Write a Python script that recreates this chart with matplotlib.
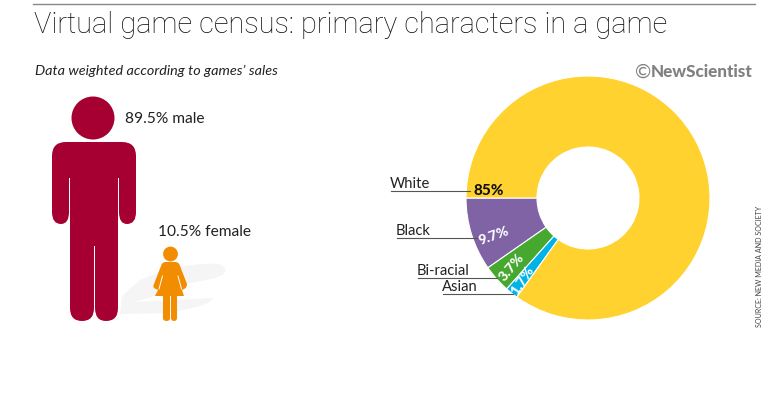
import matplotlib
matplotlib.use('Agg')
import matplotlib.pyplot as plt
from matplotlib.patches import PathPatch, Circle
from matplotlib.path import Path

# Datos
grupos = ['Black', 'Bi-racial', 'Asian', 'White']
valores = [9.7, 3.7, 1.7, 85]
etiquetas = ['9.7%', '3.7%', '1.7%', '85%']
colores = ['#7F63A5', '#46A82F', '#00B3E6', '#FFD22F']
generos = ['89.5% male', '10.5% female']

H = 395
plt.rcParams['font.family'] = ['Lato', 'DejaVu Sans']


def forma(pasos, color, z=3):
    # pasos en pixeles de la imagen: (x, y) linea, (cx, cy, x, y) curva
    verts, codes = [], []
    for i, p in enumerate(pasos):
        if len(p) == 2:
            verts.append((p[0], H - p[1]))
            codes.append(Path.MOVETO if i == 0 else Path.LINETO)
        else:
            verts += [(p[0], H - p[1]), (p[2], H - p[3])]
            codes += [Path.CURVE3, Path.CURVE3]
    ax.add_patch(PathPatch(Path(verts, codes), fc=color, ec='none', zorder=z))


def texto(x, y, s, **kw):
    kw.setdefault('color', '#222222')
    kw.setdefault('va', 'center')
    ax.text(x, H - y, s, **kw)


fig = plt.figure(figsize=(7.67, 3.95), dpi=100)
ax = fig.add_axes([0, 0, 1, 1])

# Anillo
ax.pie(valores, colors=colores, startangle=180, counterclock=True,
       center=(588, H - 198), radius=122,
       wedgeprops=dict(width=71, edgecolor='white', linewidth=0.8))
ax.set_xlim(0, 767)
ax.set_ylim(0, H)
ax.set_aspect('equal')
ax.axis('off')

# Lineas guia
guias = [('White', 391, 470, 191), ('Black', 397, 477, 238),
         ('Bi-racial', 418, 497, 278), ('Asian', 443, 513, 294)]
for nombre, x0, x1, y in guias:
    ax.plot([x0, x1], [H - y, H - y], color='#555555', lw=0.8, zorder=4)
    texto(x0 - 1, y - 7, nombre, fontsize=10.6, ha='left')

# Porcentajes sobre el anillo
pos = [(494, 236, 20), (512, 267, 50), (522.5, 280.5, 57), (488.5, 191, 0)]
for (x, y, rot), s, g in zip(pos, etiquetas, grupos):
    c = '#111111' if g == 'White' else 'white'
    tam = 11 if g == 'White' else 10.2
    texto(x, y, s, color=c, fontsize=tam, fontweight='black', rotation=rot,
          ha='center', rotation_mode='anchor', zorder=5)

# Sombra de la figura pequena
forma([(120, 314), (122, 296), (140, 280), (165, 270), (200, 262, 218, 264),
       (227, 267, 225, 272), (222, 278, 200, 281), (180, 285), (172, 290), (155, 296),
       (135, 302), (175, 300), (213, 298), (212, 302, 200, 306), (170, 313), (120, 314)],
      '#F5F5F5', z=1)

# Figura masculina
ax.add_patch(Circle((93, H - 118), 21.5, fc='#A50031', ec='none', zorder=3))
forma([(66, 142), (122, 142), (136, 142, 136, 156), (136, 212),
       (136, 224, 127, 224), (119, 224, 119, 212), (119, 178), (118, 178),
       (118, 308), (118, 321, 106, 321), (95, 321, 95, 308), (95, 246), (94, 246),
       (94, 308), (94, 321, 82, 321), (70, 321, 70, 308), (70, 178), (69, 178),
       (69, 212), (69, 224, 61, 224), (52, 224, 52, 212), (52, 156),
       (52, 142, 66, 142)], '#A50031')

# Figura femenina
ax.add_patch(Circle((170.5, H - 254), 7.4, fc='#F28C00', ec='none', zorder=3))
forma([(166, 262), (175, 262), (179, 262, 180, 266), (187, 284), (187, 288, 184, 289),
       (182, 290), (184, 296), (177, 296), (177, 318), (177, 321, 174, 321),
       (171, 321, 171, 318), (171, 296), (170, 296), (170, 318), (170, 321, 166.5, 321),
       (163, 321, 163, 318), (163, 296), (155, 296), (158, 290),
       (156, 289), (152, 288, 154, 284), (161, 266), (162, 262, 166, 262)], '#F28C00')
ax.plot([178, 181.5], [H - 276, H - 289], color='white', lw=0.7, zorder=4)
ax.plot([162.5, 159], [H - 276, H - 289], color='white', lw=0.7, zorder=4)

texto(125, 119, generos[0], fontsize=11.2)
texto(158, 232, generos[1], fontsize=11.2)

# Titulos
ax.plot([33, 755], [H - 3.5, H - 3.5], color='#888888', lw=1)
texto(34, 25, 'Virtual game census: primary characters in a game',
      fontsize=20.9, family=['Roboto', 'DejaVu Sans'], fontweight='light',
      color='#111111')
texto(35, 71, 'Data weighted according to games\u2019 sales', fontsize=10.4,
      style='italic')
texto(635, 72, '\u00a9', fontsize=14, color='#808080')
texto(651, 72, 'NewScientist', fontsize=12.3, fontweight='black', color='#808080')
texto(760, 266, 'SOURCE: NEW MEDIA AND SOCIETY', fontsize=5.1, rotation=90,
      ha='center', color='#444444')

fig.savefig('out.png', dpi=100)
